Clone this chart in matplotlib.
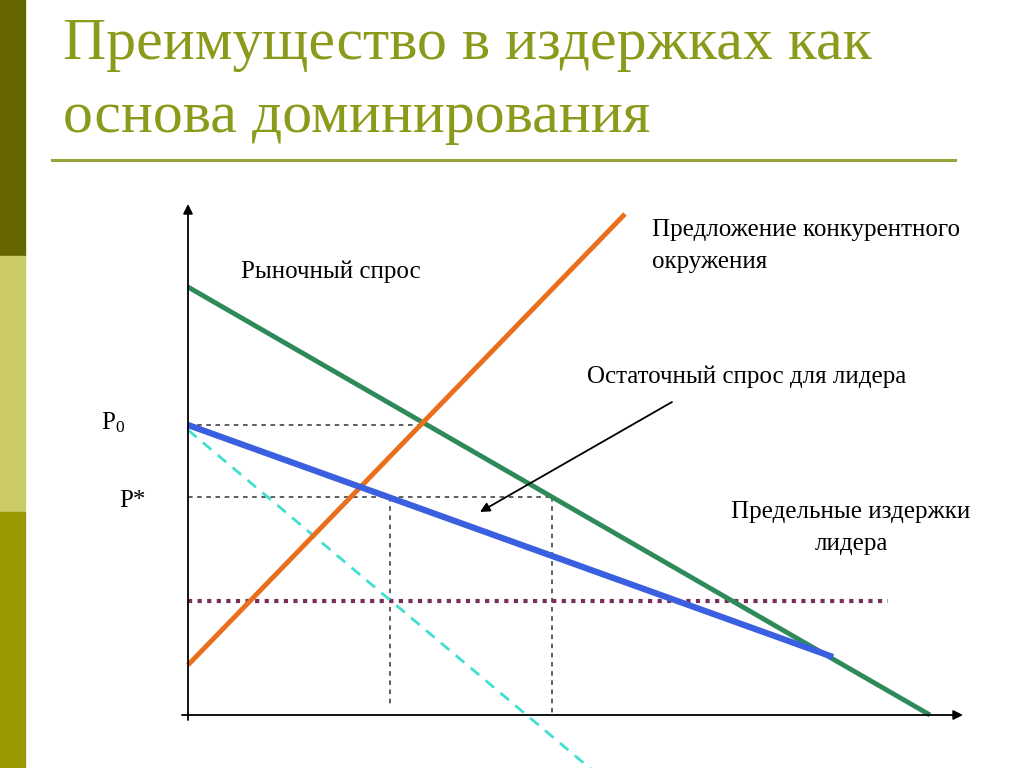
import matplotlib
matplotlib.use("Agg")
import matplotlib.pyplot as plt
from matplotlib.patches import Rectangle
from matplotlib.lines import Line2D

plt.rcParams['font.family'] = ['Liberation Serif', 'DejaVu Serif']
plt.rcParams['mathtext.fontset'] = 'custom'
plt.rcParams['mathtext.rm'] = 'Liberation Serif'
plt.rcParams['mathtext.it'] = 'Liberation Serif'

# ---- data (economic units) ----
title_lines = ["Преимущество в издержках как", "основа доминирования"]

demand_q = [0.0, 14.84]
demand_p = [8.56, 0.0]

supply_q = [0.0, 8.74]
supply_p = [1.0, 10.02]

residual_q = [0.0, 12.9]
residual_p = [5.8, 1.16]

mr_q = [0.0, 8.4]
mr_p = [5.7, -1.37]

mc_level = 2.28
mc_q = [0.0, 14.0]

P0 = 5.8
P_star = 4.36
Q_leader = 4.04
Q_market = 7.28
Q_P0 = 4.74

labels = {
    "market": "Рыночный спрос",
    "supply1": "Предложение конкурентного",
    "supply2": "окружения",
    "residual": "Остаточный спрос для лидера",
    "mc1": "Предельные издержки",
    "mc2": "лидера",
}

# ---- figure ----
fig = plt.figure(figsize=(10.24, 7.68), dpi=100)
fig.patch.set_facecolor('white')

# left decorative strip
strip_colors = ['#666600', '#cccc66', '#999900']
for i, c in enumerate(strip_colors):
    fig.patches.append(Rectangle((0, 1 - (i + 1) / 3), 25 / 1024, 1 / 3,
                                 transform=fig.transFigure, color=c, zorder=0))

# title
title_color = '#8c9a1c'
fig.text(63 / 1024, 1 - 45 / 768, title_lines[0], fontsize=43, color=title_color,
         va='center', ha='left')
fig.text(63 / 1024, 1 - 118 / 768, title_lines[1], fontsize=43, color=title_color,
         va='center', ha='left')
fig.lines.append(Line2D([52 / 1024, 955 / 1024], [1 - 160 / 768, 1 - 160 / 768],
                        transform=fig.transFigure, color='#9aa33a', lw=2.2))

# chart axes: 1 unit = 50 px, origin at (188, 715) px
ax = fig.add_axes([0, 0, 1, 1])
ax.set_xlim(-188 / 50, (1024 - 188) / 50)
ax.set_ylim(-(768 - 715) / 50, 715 / 50)
ax.axis('off')

# axes with arrows
ax.annotate('', xy=(0, 10.22), xytext=(0, -0.1),
            arrowprops=dict(arrowstyle='-|>', color='black', lw=1.3,
                            mutation_scale=14, shrinkA=0, shrinkB=0))
ax.annotate('', xy=(15.5, 0), xytext=(-0.12, 0),
            arrowprops=dict(arrowstyle='-|>', color='black', lw=1.3,
                            mutation_scale=14, shrinkA=0, shrinkB=0))

# guide dashed lines
dash_kw = dict(color='#333333', lw=1.1, ls=(0, (3, 3)))
ax.plot([0, Q_P0], [P0, P0], **dash_kw)
ax.plot([0, Q_market], [P_star, P_star], **dash_kw)
ax.plot([Q_leader, Q_leader], [P_star, 0.16], **dash_kw)
ax.plot([Q_market, Q_market], [P_star, 0], **dash_kw)

# curves
ax.plot(mc_q, [mc_level, mc_level], color='#7a2e5c', lw=3, ls=(0, (1, 1.3)))
ax.plot(mr_q, mr_p, color='#40e0d0', lw=2, ls=(0, (4, 3)))
ax.plot(demand_q, demand_p, color='#2f8a5a', lw=3.5, solid_capstyle='butt')
ax.plot(supply_q, supply_p, color='#ea6f1c', lw=3.5, solid_capstyle='butt')
ax.plot(residual_q, residual_p, color='#3a5fe0', lw=4.5, solid_capstyle='butt')

# labels
fs = 18
ax.text(2.86, 8.86, labels["market"], fontsize=fs, ha='center', va='center')
ax.text(9.28, 9.70, labels["supply1"], fontsize=fs, ha='left', va='center')
ax.text(9.28, 9.06, labels["supply2"], fontsize=fs, ha='left', va='center')
ax.text(7.98, 6.77, labels["residual"], fontsize=fs, ha='left', va='center')
ax.text(13.26, 4.06, labels["mc1"], fontsize=fs, ha='center', va='center')
ax.text(13.26, 3.42, labels["mc2"], fontsize=fs, ha='center', va='center')
ax.text(-1.26, 5.84, r'$\mathrm{P}_0$', fontsize=18, ha='right', va='center')
ax.text(-1.12, 4.28, 'P*', fontsize=18, ha='center', va='center')

# annotation arrow
ax.annotate('', xy=(5.84, 4.06), xytext=(9.68, 6.26),
            arrowprops=dict(arrowstyle='-|>', color='black', lw=1.3,
                            mutation_scale=14, shrinkA=0, shrinkB=0))

fig.savefig('out.png', dpi=100)
